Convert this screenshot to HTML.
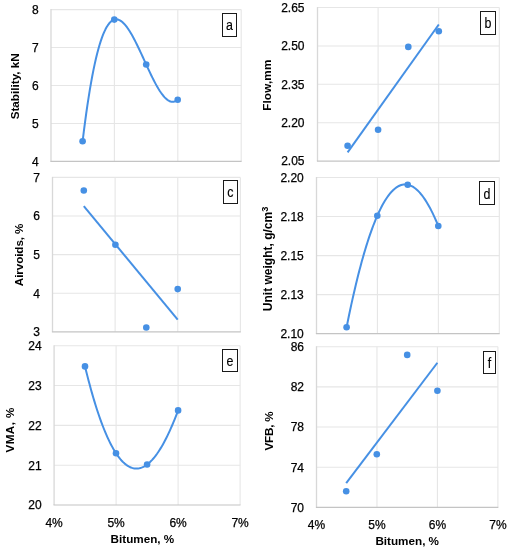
<!DOCTYPE html>
<html><head><meta charset="utf-8"><title>Marshall test results</title>
<style>
html,body{margin:0;padding:0;background:#fff;}
body{width:509px;height:550px;overflow:hidden;}
svg{display:block;}
.t{font-family:'Liberation Sans', Arial, sans-serif;font-size:12px;fill:#000;stroke:#000;stroke-width:0.25px;}
.ti{font-family:'Liberation Sans', Arial, sans-serif;font-size:11.7px;font-weight:bold;fill:#000;}
.sup{font-size:9.3px;}
.bx{font-family:'Liberation Sans', Arial, sans-serif;font-size:14.5px;fill:#000;stroke:#000;stroke-width:0.15px;}
</style></head>
<body>
<svg width="509" height="550" viewBox="0 0 509 550">
<rect width="509" height="550" fill="#fff"/>
<line x1="51.00" x2="241.20" y1="9.60" y2="9.60" stroke="#E6E6E6" stroke-width="1.1"/>
<line x1="51.00" x2="241.20" y1="47.55" y2="47.55" stroke="#E6E6E6" stroke-width="1.1"/>
<line x1="51.00" x2="241.20" y1="85.50" y2="85.50" stroke="#E6E6E6" stroke-width="1.1"/>
<line x1="51.00" x2="241.20" y1="123.45" y2="123.45" stroke="#E6E6E6" stroke-width="1.1"/>
<line x1="114.40" x2="114.40" y1="9.60" y2="161.40" stroke="#E6E6E6" stroke-width="1.1"/>
<line x1="177.80" x2="177.80" y1="9.60" y2="161.40" stroke="#E6E6E6" stroke-width="1.1"/>
<line x1="241.20" x2="241.20" y1="9.60" y2="161.40" stroke="#E6E6E6" stroke-width="1.1"/>
<line x1="51.00" x2="51.00" y1="9.10" y2="161.40" stroke="#D8D8D8" stroke-width="1.3"/>
<line x1="50.40" x2="241.60" y1="161.40" y2="161.40" stroke="#C4C4C4" stroke-width="1.2"/>
<text x="38.8" y="13.9" text-anchor="end" class="t">8</text>
<text x="38.8" y="51.9" text-anchor="end" class="t">7</text>
<text x="38.8" y="89.8" text-anchor="end" class="t">6</text>
<text x="38.8" y="127.8" text-anchor="end" class="t">5</text>
<text x="38.8" y="165.7" text-anchor="end" class="t">4</text>
<path d="M82.60,141.30 L83.80,131.55 L85.01,122.29 L86.21,113.50 L87.42,105.17 L88.62,97.29 L89.82,89.86 L91.03,82.86 L92.23,76.29 L93.43,70.14 L94.64,64.39 L95.84,59.03 L97.05,54.06 L98.25,49.47 L99.45,45.25 L100.66,41.38 L101.86,37.86 L103.06,34.69 L104.27,31.84 L105.47,29.31 L106.68,27.09 L107.88,25.16 L109.08,23.54 L110.29,22.19 L111.49,21.11 L112.69,20.30 L113.90,19.73 L115.10,19.41 L116.31,19.33 L117.51,19.46 L118.71,19.82 L119.92,20.37 L121.12,21.12 L122.33,22.06 L123.53,23.17 L124.73,24.45 L125.94,25.88 L127.14,27.46 L128.34,29.18 L129.55,31.03 L130.75,32.99 L131.96,35.07 L133.16,37.24 L134.36,39.50 L135.57,41.85 L136.77,44.26 L137.97,46.73 L139.18,49.26 L140.38,51.82 L141.59,54.42 L142.79,57.04 L143.99,59.67 L145.20,62.31 L146.40,64.94 L147.61,67.55 L148.81,70.14 L150.01,72.70 L151.22,75.20 L152.42,77.66 L153.62,80.05 L154.83,82.37 L156.03,84.60 L157.24,86.74 L158.44,88.78 L159.64,90.71 L160.85,92.52 L162.05,94.19 L163.25,95.73 L164.46,97.11 L165.66,98.34 L166.87,99.39 L168.07,100.27 L169.27,100.96 L170.48,101.45 L171.68,101.73 L172.88,101.80 L174.09,101.64 L175.29,101.24 L176.50,100.60 L177.70,99.70" fill="none" stroke="#4690E4" stroke-width="2" stroke-linejoin="round"/>
<circle cx="82.6" cy="141.3" r="3.3" fill="#4690E4"/>
<circle cx="114.3" cy="19.6" r="3.3" fill="#4690E4"/>
<circle cx="146.2" cy="64.5" r="3.3" fill="#4690E4"/>
<circle cx="177.7" cy="99.7" r="3.3" fill="#4690E4"/>
<rect x="222.5" y="13.5" width="14.0" height="23.0" fill="#fff" stroke="#1a1a1a" stroke-width="1"/>
<text transform="translate(229.50,30.20) scale(0.86,1)" text-anchor="middle" class="bx">a</text>
<text transform="translate(18.6,86.3) rotate(-90)" text-anchor="middle" class="ti" style="font-size:11.7px;letter-spacing:0px">Stability, kN</text>
<line x1="317.50" x2="499.30" y1="7.55" y2="7.55" stroke="#E6E6E6" stroke-width="1.1"/>
<line x1="317.50" x2="499.30" y1="45.94" y2="45.94" stroke="#E6E6E6" stroke-width="1.1"/>
<line x1="317.50" x2="499.30" y1="84.32" y2="84.32" stroke="#E6E6E6" stroke-width="1.1"/>
<line x1="317.50" x2="499.30" y1="122.71" y2="122.71" stroke="#E6E6E6" stroke-width="1.1"/>
<line x1="378.10" x2="378.10" y1="7.55" y2="161.10" stroke="#E6E6E6" stroke-width="1.1"/>
<line x1="438.70" x2="438.70" y1="7.55" y2="161.10" stroke="#E6E6E6" stroke-width="1.1"/>
<line x1="499.30" x2="499.30" y1="7.55" y2="161.10" stroke="#E6E6E6" stroke-width="1.1"/>
<line x1="317.50" x2="317.50" y1="7.05" y2="161.10" stroke="#D8D8D8" stroke-width="1.3"/>
<line x1="316.90" x2="499.70" y1="161.10" y2="161.10" stroke="#C4C4C4" stroke-width="1.2"/>
<text x="304.5" y="11.8" text-anchor="end" class="t">2.65</text>
<text x="304.5" y="50.2" text-anchor="end" class="t">2.50</text>
<text x="304.5" y="88.6" text-anchor="end" class="t">2.35</text>
<text x="304.5" y="127.0" text-anchor="end" class="t">2.20</text>
<text x="304.5" y="165.4" text-anchor="end" class="t">2.05</text>
<path d="M347.60,152.34 L438.80,24.51" fill="none" stroke="#4690E4" stroke-width="2" stroke-linejoin="round"/>
<circle cx="347.6" cy="145.7" r="3.3" fill="#4690E4"/>
<circle cx="378.1" cy="129.8" r="3.3" fill="#4690E4"/>
<circle cx="408.3" cy="46.9" r="3.3" fill="#4690E4"/>
<circle cx="438.8" cy="31.3" r="3.3" fill="#4690E4"/>
<rect x="480.5" y="11.5" width="15.0" height="23.0" fill="#fff" stroke="#1a1a1a" stroke-width="1"/>
<text transform="translate(488.05,28.40) scale(0.86,1)" text-anchor="middle" class="bx">b</text>
<text transform="translate(270.9,85.2) rotate(-90)" text-anchor="middle" class="ti" style="font-size:11.7px;letter-spacing:0.15px">Flow,mm</text>
<line x1="52.50" x2="240.40" y1="177.40" y2="177.40" stroke="#E6E6E6" stroke-width="1.1"/>
<line x1="52.50" x2="240.40" y1="216.00" y2="216.00" stroke="#E6E6E6" stroke-width="1.1"/>
<line x1="52.50" x2="240.40" y1="254.60" y2="254.60" stroke="#E6E6E6" stroke-width="1.1"/>
<line x1="52.50" x2="240.40" y1="293.20" y2="293.20" stroke="#E6E6E6" stroke-width="1.1"/>
<line x1="115.13" x2="115.13" y1="177.40" y2="331.80" stroke="#E6E6E6" stroke-width="1.1"/>
<line x1="177.77" x2="177.77" y1="177.40" y2="331.80" stroke="#E6E6E6" stroke-width="1.1"/>
<line x1="240.40" x2="240.40" y1="177.40" y2="331.80" stroke="#E6E6E6" stroke-width="1.1"/>
<line x1="52.50" x2="52.50" y1="176.90" y2="331.80" stroke="#D8D8D8" stroke-width="1.3"/>
<line x1="51.90" x2="240.80" y1="331.80" y2="331.80" stroke="#C4C4C4" stroke-width="1.2"/>
<text x="39.9" y="181.7" text-anchor="end" class="t">7</text>
<text x="39.9" y="220.3" text-anchor="end" class="t">6</text>
<text x="39.9" y="258.9" text-anchor="end" class="t">5</text>
<text x="39.9" y="297.5" text-anchor="end" class="t">4</text>
<text x="39.9" y="336.1" text-anchor="end" class="t">3</text>
<path d="M83.80,206.07 L177.70,319.71" fill="none" stroke="#4690E4" stroke-width="2" stroke-linejoin="round"/>
<circle cx="83.8" cy="190.5" r="3.3" fill="#4690E4"/>
<circle cx="115.4" cy="244.7" r="3.3" fill="#4690E4"/>
<circle cx="146.3" cy="327.5" r="3.3" fill="#4690E4"/>
<circle cx="177.7" cy="289.1" r="3.3" fill="#4690E4"/>
<rect x="223.5" y="180.5" width="14.0" height="23.0" fill="#fff" stroke="#1a1a1a" stroke-width="1"/>
<text transform="translate(230.35,197.30) scale(0.86,1)" text-anchor="middle" class="bx">c</text>
<text transform="translate(22.5,254.9) rotate(-90)" text-anchor="middle" class="ti" style="font-size:11.7px;letter-spacing:-0.1px">Airvoids, %</text>
<line x1="316.50" x2="499.30" y1="177.50" y2="177.50" stroke="#E6E6E6" stroke-width="1.1"/>
<line x1="316.50" x2="499.30" y1="216.55" y2="216.55" stroke="#E6E6E6" stroke-width="1.1"/>
<line x1="316.50" x2="499.30" y1="255.60" y2="255.60" stroke="#E6E6E6" stroke-width="1.1"/>
<line x1="316.50" x2="499.30" y1="294.65" y2="294.65" stroke="#E6E6E6" stroke-width="1.1"/>
<line x1="377.43" x2="377.43" y1="177.50" y2="333.70" stroke="#E6E6E6" stroke-width="1.1"/>
<line x1="438.37" x2="438.37" y1="177.50" y2="333.70" stroke="#E6E6E6" stroke-width="1.1"/>
<line x1="499.30" x2="499.30" y1="177.50" y2="333.70" stroke="#E6E6E6" stroke-width="1.1"/>
<line x1="316.50" x2="316.50" y1="177.00" y2="333.70" stroke="#D8D8D8" stroke-width="1.3"/>
<line x1="315.90" x2="499.70" y1="333.70" y2="333.70" stroke="#C4C4C4" stroke-width="1.2"/>
<text x="303.8" y="181.8" text-anchor="end" class="t">2.20</text>
<text x="303.8" y="220.9" text-anchor="end" class="t">2.18</text>
<text x="303.8" y="259.9" text-anchor="end" class="t">2.15</text>
<text x="303.8" y="298.9" text-anchor="end" class="t">2.13</text>
<text x="303.8" y="338.0" text-anchor="end" class="t">2.10</text>
<path d="M346.60,327.20 L347.76,321.43 L348.92,315.79 L350.08,310.27 L351.24,304.87 L352.40,299.60 L353.56,294.46 L354.73,289.43 L355.89,284.53 L357.05,279.76 L358.21,275.10 L359.37,270.57 L360.53,266.15 L361.69,261.86 L362.85,257.69 L364.01,253.64 L365.17,249.71 L366.33,245.90 L367.49,242.20 L368.65,238.63 L369.82,235.17 L370.98,231.84 L372.14,228.62 L373.30,225.51 L374.46,222.52 L375.62,219.65 L376.78,216.90 L377.94,214.26 L379.10,211.73 L380.26,209.32 L381.42,207.03 L382.58,204.84 L383.74,202.77 L384.91,200.82 L386.07,198.97 L387.23,197.24 L388.39,195.62 L389.55,194.11 L390.71,192.71 L391.87,191.43 L393.03,190.25 L394.19,189.18 L395.35,188.23 L396.51,187.38 L397.67,186.64 L398.83,186.00 L399.99,185.48 L401.16,185.06 L402.32,184.75 L403.48,184.55 L404.64,184.45 L405.80,184.46 L406.96,184.57 L408.12,184.79 L409.28,185.11 L410.44,185.54 L411.60,186.07 L412.76,186.71 L413.92,187.44 L415.08,188.28 L416.25,189.23 L417.41,190.27 L418.57,191.41 L419.73,192.66 L420.89,194.01 L422.05,195.45 L423.21,197.00 L424.37,198.65 L425.53,200.39 L426.69,202.23 L427.85,204.18 L429.01,206.22 L430.17,208.35 L431.34,210.59 L432.50,212.92 L433.66,215.34 L434.82,217.86 L435.98,220.48 L437.14,223.19 L438.30,226.00" fill="none" stroke="#4690E4" stroke-width="2" stroke-linejoin="round"/>
<circle cx="346.6" cy="327.2" r="3.3" fill="#4690E4"/>
<circle cx="377.3" cy="215.7" r="3.3" fill="#4690E4"/>
<circle cx="407.7" cy="184.7" r="3.3" fill="#4690E4"/>
<circle cx="438.3" cy="226.0" r="3.3" fill="#4690E4"/>
<rect x="479.5" y="181.5" width="15.0" height="23.0" fill="#fff" stroke="#1a1a1a" stroke-width="1"/>
<text transform="translate(486.90,198.50) scale(0.86,1)" text-anchor="middle" class="bx">d</text>
<text transform="translate(271.5,258.9) rotate(-90)" text-anchor="middle" class="ti" style="font-size:12.0px;letter-spacing:0px">Unit weight, g/cm<tspan class="sup" dy="-3.7">3</tspan></text>
<line x1="54.10" x2="240.10" y1="345.70" y2="345.70" stroke="#E6E6E6" stroke-width="1.1"/>
<line x1="54.10" x2="240.10" y1="385.52" y2="385.52" stroke="#E6E6E6" stroke-width="1.1"/>
<line x1="54.10" x2="240.10" y1="425.35" y2="425.35" stroke="#E6E6E6" stroke-width="1.1"/>
<line x1="54.10" x2="240.10" y1="465.18" y2="465.18" stroke="#E6E6E6" stroke-width="1.1"/>
<line x1="116.10" x2="116.10" y1="345.70" y2="505.00" stroke="#E6E6E6" stroke-width="1.1"/>
<line x1="178.10" x2="178.10" y1="345.70" y2="505.00" stroke="#E6E6E6" stroke-width="1.1"/>
<line x1="240.10" x2="240.10" y1="345.70" y2="505.00" stroke="#E6E6E6" stroke-width="1.1"/>
<line x1="54.10" x2="54.10" y1="345.20" y2="505.00" stroke="#D8D8D8" stroke-width="1.3"/>
<line x1="53.50" x2="240.50" y1="505.00" y2="505.00" stroke="#C4C4C4" stroke-width="1.2"/>
<text x="41.6" y="350.0" text-anchor="end" class="t">24</text>
<text x="41.6" y="389.8" text-anchor="end" class="t">23</text>
<text x="41.6" y="429.7" text-anchor="end" class="t">22</text>
<text x="41.6" y="469.5" text-anchor="end" class="t">21</text>
<text x="41.6" y="509.3" text-anchor="end" class="t">20</text>
<path d="M85.00,366.40 L86.18,371.20 L87.36,375.88 L88.54,380.43 L89.71,384.86 L90.89,389.18 L92.07,393.37 L93.25,397.44 L94.43,401.39 L95.61,405.22 L96.78,408.93 L97.96,412.52 L99.14,416.00 L100.32,419.36 L101.50,422.60 L102.68,425.73 L103.86,428.74 L105.03,431.64 L106.21,434.42 L107.39,437.09 L108.57,439.65 L109.75,442.09 L110.93,444.43 L112.11,446.65 L113.28,448.76 L114.46,450.76 L115.64,452.65 L116.82,454.43 L118.00,456.10 L119.18,457.66 L120.35,459.12 L121.53,460.47 L122.71,461.71 L123.89,462.85 L125.07,463.88 L126.25,464.81 L127.43,465.63 L128.60,466.35 L129.78,466.97 L130.96,467.48 L132.14,467.89 L133.32,468.20 L134.50,468.41 L135.67,468.52 L136.85,468.53 L138.03,468.44 L139.21,468.26 L140.39,467.97 L141.57,467.59 L142.75,467.11 L143.92,466.53 L145.10,465.86 L146.28,465.09 L147.46,464.23 L148.64,463.27 L149.82,462.22 L150.99,461.08 L152.17,459.84 L153.35,458.51 L154.53,457.10 L155.71,455.59 L156.89,453.99 L158.07,452.30 L159.24,450.52 L160.42,448.65 L161.60,446.70 L162.78,444.65 L163.96,442.53 L165.14,440.31 L166.32,438.01 L167.49,435.62 L168.67,433.15 L169.85,430.60 L171.03,427.96 L172.21,425.23 L173.39,422.43 L174.56,419.54 L175.74,416.58 L176.92,413.53 L178.10,410.40" fill="none" stroke="#4690E4" stroke-width="2" stroke-linejoin="round"/>
<circle cx="85.0" cy="366.4" r="3.3" fill="#4690E4"/>
<circle cx="116.0" cy="453.2" r="3.3" fill="#4690E4"/>
<circle cx="147.1" cy="464.5" r="3.3" fill="#4690E4"/>
<circle cx="178.1" cy="410.4" r="3.3" fill="#4690E4"/>
<rect x="222.5" y="349.5" width="15.0" height="22.0" fill="#fff" stroke="#1a1a1a" stroke-width="1"/>
<text transform="translate(229.95,365.90) scale(0.86,1)" text-anchor="middle" class="bx">e</text>
<text transform="translate(13.7,429.9) rotate(-90)" text-anchor="middle" class="ti" style="font-size:11.7px;letter-spacing:0.4px">VMA, %</text>
<line x1="316.50" x2="497.90" y1="346.70" y2="346.70" stroke="#E6E6E6" stroke-width="1.1"/>
<line x1="316.50" x2="497.90" y1="386.88" y2="386.88" stroke="#E6E6E6" stroke-width="1.1"/>
<line x1="316.50" x2="497.90" y1="427.05" y2="427.05" stroke="#E6E6E6" stroke-width="1.1"/>
<line x1="316.50" x2="497.90" y1="467.22" y2="467.22" stroke="#E6E6E6" stroke-width="1.1"/>
<line x1="376.97" x2="376.97" y1="346.70" y2="507.40" stroke="#E6E6E6" stroke-width="1.1"/>
<line x1="437.43" x2="437.43" y1="346.70" y2="507.40" stroke="#E6E6E6" stroke-width="1.1"/>
<line x1="497.90" x2="497.90" y1="346.70" y2="507.40" stroke="#E6E6E6" stroke-width="1.1"/>
<line x1="316.50" x2="316.50" y1="346.20" y2="507.40" stroke="#D8D8D8" stroke-width="1.3"/>
<line x1="315.90" x2="498.30" y1="507.40" y2="507.40" stroke="#C4C4C4" stroke-width="1.2"/>
<text x="304.0" y="351.0" text-anchor="end" class="t">86</text>
<text x="304.0" y="391.2" text-anchor="end" class="t">82</text>
<text x="304.0" y="431.3" text-anchor="end" class="t">78</text>
<text x="304.0" y="471.5" text-anchor="end" class="t">74</text>
<text x="304.0" y="511.7" text-anchor="end" class="t">70</text>
<path d="M346.20,483.12 L437.40,362.74" fill="none" stroke="#4690E4" stroke-width="2" stroke-linejoin="round"/>
<circle cx="346.2" cy="491.3" r="3.3" fill="#4690E4"/>
<circle cx="376.8" cy="454.2" r="3.3" fill="#4690E4"/>
<circle cx="407.2" cy="354.9" r="3.3" fill="#4690E4"/>
<circle cx="437.4" cy="390.8" r="3.3" fill="#4690E4"/>
<rect x="483.5" y="351.5" width="12.0" height="22.0" fill="#fff" stroke="#1a1a1a" stroke-width="1"/>
<text transform="translate(489.55,368.30) scale(0.86,1)" text-anchor="middle" class="bx">f</text>
<text transform="translate(273.3,431.1) rotate(-90)" text-anchor="middle" class="ti" style="font-size:11.7px;letter-spacing:-0.25px">VFB, %</text>
<text x="54.1" y="526.6" text-anchor="middle" class="t">4%</text>
<text x="116.1" y="526.6" text-anchor="middle" class="t">5%</text>
<text x="178.1" y="526.6" text-anchor="middle" class="t">6%</text>
<text x="240.1" y="526.6" text-anchor="middle" class="t">7%</text>
<text x="142.4" y="543.3" text-anchor="middle" class="ti">Bitumen, %</text>
<text x="316.5" y="528.8" text-anchor="middle" class="t">4%</text>
<text x="377.0" y="528.8" text-anchor="middle" class="t">5%</text>
<text x="437.4" y="528.8" text-anchor="middle" class="t">6%</text>
<text x="497.9" y="528.8" text-anchor="middle" class="t">7%</text>
<text x="407.2" y="544.6" text-anchor="middle" class="ti">Bitumen, %</text>
</svg>
</body></html>
